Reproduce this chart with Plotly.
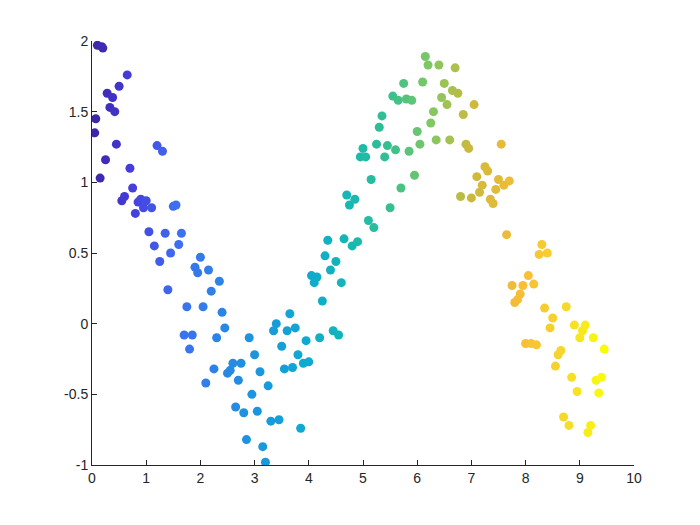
import plotly.graph_objects as go

x_vals = [0.05,0.07,0.1,0.18,0.2,0.15,0.25,0.28,0.33,0.38,0.42,0.45,0.5,0.55,0.6,0.65,0.7,0.75,0.8,0.85,
          0.9,0.95,1.0,1.05,1.1,1.15,1.2,1.25,1.3,1.35,1.4,1.45,1.5,1.55,1.6,1.65,1.7,1.75,1.8,1.85,
          1.9,1.95,2.0,2.05,2.1,2.15,2.2,2.25,2.3,2.35,2.4,2.45,2.5,2.55,2.6,2.65,2.7,2.75,2.8,2.85,
          2.9,2.95,3.0,3.05,3.1,3.15,3.2,3.25,3.3,3.35,3.4,3.45,3.5,3.55,3.6,3.65,3.7,3.75,3.8,3.85,
          3.9,3.95,4.0,4.05,4.1,4.15,4.2,4.25,4.3,4.35,4.4,4.45,4.5,4.55,4.6,4.65,4.7,4.75,4.8,4.85,
          4.9,4.95,5.0,5.05,5.1,5.15,5.2,5.25,5.3,5.35,5.4,5.45,5.5,5.55,5.6,5.65,5.7,5.75,5.8,5.85,
          5.9,5.95,6.0,6.05,6.1,6.15,6.2,6.25,6.3,6.35,6.4,6.45,6.5,6.55,6.6,6.65,6.7,6.75,6.8,6.85,
          6.9,6.95,7.0,7.05,7.1,7.15,7.2,7.25,7.3,7.35,7.4,7.45,7.5,7.55,7.6,7.65,7.7,7.75,7.8,7.85,
          7.9,7.95,8.0,8.05,8.1,8.15,8.2,8.25,8.3,8.35,8.4,8.45,8.5,8.55,8.6,8.65,8.7,8.75,8.8,8.85,
          8.9,8.95,9.0,9.05,9.1,9.15,9.2,9.25,9.3,9.35,9.4,9.45]
y_vals = [1.35,1.45,1.97,1.96,1.95,1.03,1.16,1.63,1.53,1.6,1.5,1.27,1.68,0.87,0.9,1.76,1.1,0.96,0.78,0.86,
          0.88,0.82,0.87,0.65,0.82,0.55,1.26,0.44,1.22,0.64,0.24,0.5,0.83,0.84,0.56,0.64,-0.08,0.12,-0.18,-0.08,
          0.4,0.36,0.47,0.12,-0.42,0.38,0.23,-0.32,-0.1,0.3,0.08,-0.03,-0.35,-0.33,-0.28,-0.59,-0.4,-0.28,-0.63,-0.82,
          -0.1,-0.5,-0.22,-0.62,-0.34,-0.87,-0.98,-0.44,-0.69,-0.05,0.0,-0.68,-0.16,-0.32,-0.05,0.07,-0.31,-0.03,-0.22,-0.74,
          -0.28,-0.12,-0.27,0.34,0.29,0.33,-0.1,0.16,0.48,0.59,0.38,-0.05,0.44,-0.08,0.29,0.6,0.91,0.84,0.55,0.88,
          0.58,1.18,1.24,1.18,0.73,1.02,0.68,1.27,1.39,1.47,1.18,1.26,0.82,1.61,1.23,1.58,0.96,1.7,1.59,1.22,
          1.58,1.05,1.36,1.27,1.71,1.89,1.83,1.42,1.5,1.3,1.83,1.6,1.7,1.55,1.3,1.65,1.81,1.63,0.9,1.48,
          1.27,1.24,0.89,1.55,1.04,0.93,0.98,1.11,1.08,0.88,0.85,0.95,1.02,1.27,0.98,0.63,1.01,0.27,0.15,0.17,
          0.21,0.27,-0.14,0.34,-0.14,0.28,-0.15,0.49,0.56,0.11,0.5,-0.03,0.04,-0.3,-0.22,-0.19,-0.66,0.12,-0.72,-0.38,
          -0.01,-0.48,-0.1,-0.05,-0.01,-0.77,-0.72,-0.1,-0.4,-0.49,-0.38,-0.18]
x_ticks = [0, 1, 2, 3, 4, 5, 6, 7, 8, 9, 10]
y_ticks = [-1, -0.5, 0, 0.5, 1, 1.5, 2]
y_ticktext = ['-1', '-0.5', '0', '0.5', '1', '1.5', '2']

# parula-like colormap
parula = [[0.0, '#3e26a8'], [0.08, '#4541e0'], [0.16, '#3f6ef0'], [0.3, '#1e92e0'],
          [0.42, '#0eaad0'], [0.5, '#14b8b4'], [0.58, '#36c08e'], [0.66, '#82c862'],
          [0.74, '#cdb93c'], [0.84, '#f9bd36'], [0.92, '#f5d82a'], [1.0, '#f9fb0e']]

fig = go.Figure(go.Scatter(
    x=x_vals, y=y_vals, mode='markers',
    marker=dict(size=9, color=x_vals, colorscale=parula, line=dict(width=0)),
))

axis_style = dict(showline=True, linecolor='#262626', linewidth=1, ticks='inside', ticklen=5,
                  tickcolor='#262626', showgrid=False, zeroline=False, mirror=False,
                  tickfont=dict(family='Liberation Sans, Arial', size=14, color='#262626'))
fig.update_xaxes(range=[0, 10], tickvals=x_ticks, **axis_style)
fig.update_yaxes(range=[-1, 2], tickvals=y_ticks, ticktext=y_ticktext, **axis_style)

fig.update_layout(
    width=700, height=525, showlegend=False,
    margin=dict(l=84, r=74, t=33, b=68),
    plot_bgcolor='white', paper_bgcolor='white',
)

fig.write_html("out.html")
